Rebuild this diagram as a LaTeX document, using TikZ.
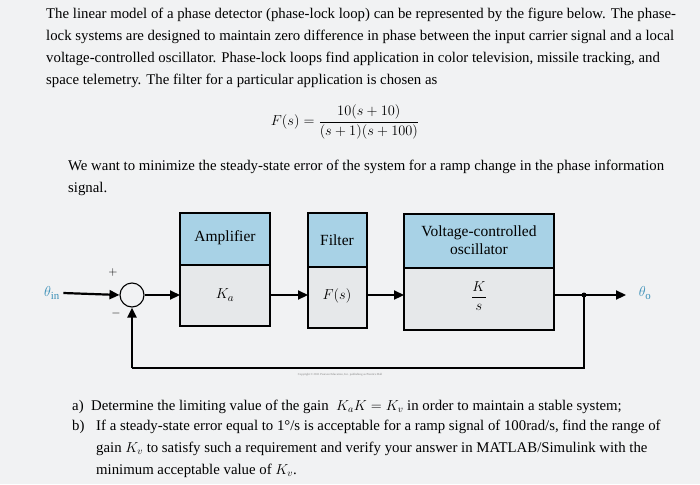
\documentclass[tikz,border=0pt]{standalone}
\usepackage{amsmath}
\usepackage{fontspec}
\setmainfont{Liberation Serif}
\usetikzlibrary{arrows.meta}
\definecolor{hdr}{HTML}{A8D2E6}
\definecolor{bdy}{HTML}{E6E8EA}
\definecolor{bg}{HTML}{F1F2F3}
\definecolor{th}{HTML}{3A8FB7}
\begin{document}
\begin{tikzpicture}[x=1pt,y=-1pt,
  txt/.style={anchor=north west,inner sep=0pt,align=left,font=\fontsize{14.8}{22}\selectfont},
  hd/.style={draw,line width=1.1pt,fill=hdr},
  bd/.style={draw,line width=1.1pt,fill=bdy},
  lbl/.style={font=\fontsize{15.5}{18}\selectfont},
  sig/.style={line width=2.2pt,-{Triangle[length=10pt,width=9pt]}},
  ln/.style={line width=2.2pt}]
\fill[bg] (0,0) rectangle (700,484);
\useasboundingbox (0,0) rectangle (700,484);
\node[txt] (p1) at (46,8) {The linear model of a phase detector (phase-lock loop) can be represented by the figure below. The phase-\\lock systems are designed to maintain zero difference in phase between the input carrier signal and a local\\voltage-controlled oscillator. Phase-lock loops find application in color television, missile tracking, and\\space telemetry. The filter for a particular application is chosen as};
\node[lbl] (eq) at (345,122) {$F(s)=\dfrac{10(s+10)}{(s+1)(s+100)}$};
\node[txt] (p2) at (68,160) {We want to minimize the steady-state error of the system for a ramp change in the phase information\\signal.};
% blocks
\draw[hd] (180,213) rectangle (270,265); \draw[bd] (180,265) rectangle (270,326);
\draw[hd] (308,213) rectangle (367,267); \draw[bd] (308,267) rectangle (367,328);
\draw[hd] (404,214) rectangle (554,268); \draw[bd] (404,268) rectangle (554,330);
\node[lbl] (a1) at (225,238) {Amplifier};
\node[lbl] (a2) at (225,295) {$K_a$};
\node[lbl] (f1) at (337,240) {Filter};
\node[lbl] (f2) at (337,296) {$F(s)$};
\node[lbl,align=center] (v1) at (479,240) {Voltage-controlled\\oscillator};
\node[lbl] (v2) at (479,296) {$\dfrac{K}{s}$};
\node[draw,circle,minimum size=24pt,inner sep=0pt,line width=1.1pt] (sum) at (132,295) {};
\node[lbl,text=th] (ti) at (52,293) {$\theta_{\mathrm{in}}$};
\node[lbl,text=th] (to) at (645,293) {$\theta_{\mathrm{o}}$};
\node[font=\large] (plus) at (113,272) {$+$};
\node[font=\large] (minus) at (116,313) {$-$};
\coordinate (j) at (584,295);
\coordinate (fb) at (584,368);
\coordinate (fb2) at (132,368);
\coordinate (ae) at (180,295);
\coordinate (ax) at (270,295);
\coordinate (fe) at (308,295);
\coordinate (fx) at (367,295);
\coordinate (ve) at (404,295);
\coordinate (vx) at (554,295);
\coordinate (oe) at (626,295);
\draw[sig] (ti.east) -- (sum.west);
\draw[sig] (sum.east) -- (ae);
\draw[sig] (ax) -- (fe);
\draw[sig] (fx) -- (ve);
\draw[sig] (vx) -- (oe);
\fill (j) circle (2.5pt);
\draw[ln] (j) -- (fb) -- (fb2);
\draw[sig] (fb2) -- (sum.south);
\node[font=\fontsize{3}{4}\selectfont,text=gray] (cp) at (340,375) {Copyright © 2011 Pearson Education, Inc. publishing as Prentice Hall};
\node[txt] (qa) at (72,400) {a)\ \ Determine the limiting value of the gain\ \ $K_aK=K_v$ in order to maintain a stable system;};
\node[txt] (qb) at (72,420) {b)};
\node[txt] (qb2) at (96,420) {If a steady-state error equal to 1°/s is acceptable for a ramp signal of 100rad/s, find the range of\\gain $K_v$ to satisfy such a requirement and verify your answer in MATLAB/Simulink with the\\minimum acceptable value of $K_v$.};
\end{tikzpicture}
\end{document}
